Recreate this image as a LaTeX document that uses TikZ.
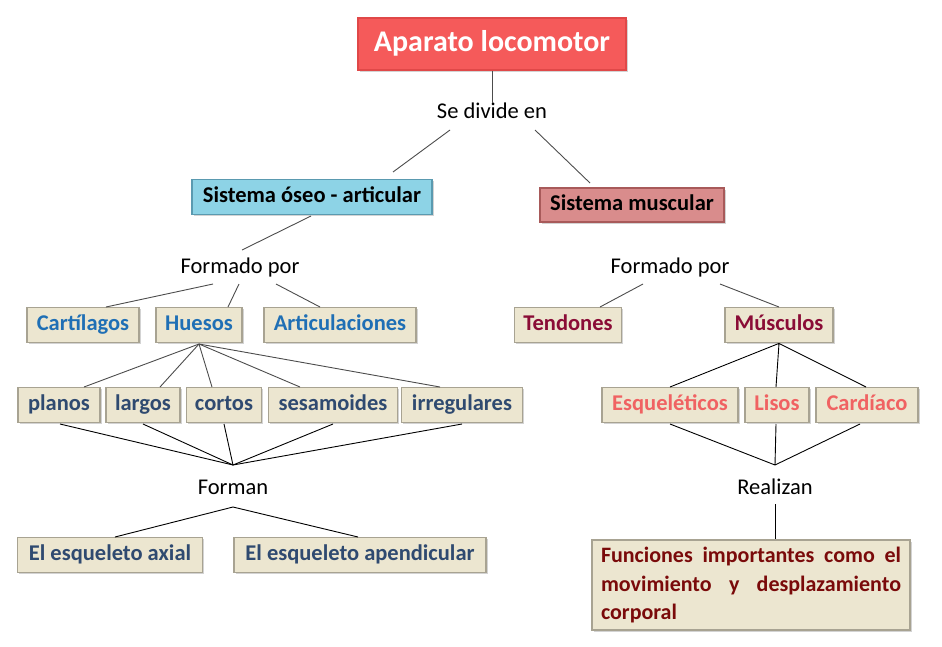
\documentclass[tikz,border=0pt]{standalone}
\usepackage{fontspec}
\setmainfont{Carlito}
\usetikzlibrary{shadows}
\definecolor{beige}{HTML}{ECE6D0}
\definecolor{bevel}{HTML}{A8A392}
\definecolor{cblue}{HTML}{1F6FB5}
\definecolor{cslate}{HTML}{2F4A70}
\definecolor{cmaroon}{HTML}{8A0C36}
\definecolor{csalmon}{HTML}{F06262}
\definecolor{cdark}{HTML}{7A0A0A}
\definecolor{osfill}{HTML}{8DD3E6}
\definecolor{osdraw}{HTML}{5A9AB0}
\definecolor{mufill}{HTML}{D98C8C}
\definecolor{mudraw}{HTML}{A85A5A}
\definecolor{apfill}{HTML}{F55A5A}
\definecolor{apdraw}{HTML}{E04848}
\begin{document}
\begin{tikzpicture}[x=1pt,y=-1pt,
  box/.style={draw=bevel,line width=1.8pt,fill=beige,inner sep=0pt,text height=15pt,text depth=5pt,font=\fontsize{22.5}{25}\selectfont\bfseries,drop shadow={shadow xshift=1.5pt,shadow yshift=-1.5pt,opacity=0.35}},
  lbl/.style={inner sep=0pt,font=\fontsize{22.5}{25}\selectfont},
  ln/.style={line width=0.9pt},
  gl/.style={line width=0.9pt,draw=black!70}]
\useasboundingbox (0,0) rectangle (942,646);
\node[box,fill=apfill,draw=apdraw,text=white,minimum width=268pt,minimum height=52pt,text height=20pt,text depth=6pt,font=\fontsize{30}{32}\selectfont\bfseries] (ap) at (492,44) {Aparato locomotor};
\node[lbl] (se) at (492,111) {Se divide en};
\node[box,fill=osfill,draw=osdraw,minimum width=240pt,minimum height=35pt] (os) at (312,197) {Sistema óseo - articular};
\node[box,fill=mufill,draw=mudraw,minimum width=184pt,minimum height=34pt] (mu) at (632,205) {Sistema muscular};
\node[lbl] (f1) at (240,267) {Formado por};
\node[lbl] (f2) at (670,267) {Formado por};
\node[box,text=cblue,minimum width=112pt,minimum height=35pt] (ca) at (83,325) {Cartílagos};
\node[box,text=cblue,minimum width=86pt,minimum height=35pt] (hu) at (199,325) {Huesos};
\node[box,text=cblue,minimum width=152pt,minimum height=35pt] (ar) at (340,325) {Articulaciones};
\node[box,text=cmaroon,minimum width=107pt,minimum height=35pt] (te) at (568,325) {Tendones};
\node[box,text=cmaroon,minimum width=108pt,minimum height=35pt] (ms) at (779,325) {Músculos};
\node[box,text=cslate,minimum width=82pt,minimum height=35pt] (pl) at (59,405) {planos};
\node[box,text=cslate,minimum width=74pt,minimum height=35pt] (la) at (143,405) {largos};
\node[box,text=cslate,minimum width=75pt,minimum height=35pt] (co) at (224,405) {cortos};
\node[box,text=cslate,minimum width=129pt,minimum height=35pt] (sm) at (333,405) {sesamoides};
\node[box,text=cslate,minimum width=121pt,minimum height=35pt] (ir) at (462,405) {irregulares};
\node[box,text=csalmon,minimum width=136pt,minimum height=35pt] (es) at (670,405) {Esqueléticos};
\node[box,text=csalmon,minimum width=64pt,minimum height=35pt] (li) at (777,405) {Lisos};
\node[box,text=csalmon,minimum width=102pt,minimum height=35pt] (cd) at (867,405) {Cardíaco};
\node[lbl] (fo) at (233,487) {Forman};
\node[lbl] (re) at (775,487) {Realizan};
\node[box,text=cslate,minimum width=185pt,minimum height=35pt] (ax) at (110,555) {El esqueleto axial};
\node[box,text=cslate,minimum width=252pt,minimum height=35pt] (apd) at (360,555) {El esqueleto apendicular};
\node[box,text=cdark,minimum width=318pt,minimum height=90pt,text height=,text depth=,font=\fontsize{22}{28}\selectfont\bfseries] (fu) at (751,585) {\parbox{300pt}{\hyphenpenalty=10000
\makebox[300pt][s]{Funciones importantes como el}\\
\makebox[300pt][s]{movimiento y desplazamiento}\\
corporal}};
% connectors
\draw[gl] (ap.south) -- (se.north);
\coordinate (b1) at (450,130); \coordinate (b2) at (393,172);
\draw[gl] (b1) -- (b2);
\coordinate (c1) at (535,130); \coordinate (c2) at (590,183);
\draw[gl] (c1) -- (c2);
\coordinate (c3) at (311,216); \coordinate (c4) at (242,250);
\draw[gl] (c3) -- (c4);
\coordinate (d0) at (213,284); \coordinate (d1) at (106,307);
\coordinate (d2) at (239,284); \coordinate (d3) at (228,307);
\coordinate (d4) at (276,284); \coordinate (d5) at (320,307);
\draw[gl] (d0)--(d1) (d2)--(d3) (d4)--(d5);
\coordinate (e0) at (643,284); \coordinate (e1) at (600,307);
\coordinate (e2) at (720,284); \coordinate (e3) at (779,307);
\draw[gl] (e0)--(e1) (e2)--(e3);
\coordinate (h) at (199,344);
\foreach \x in {84,160,212,300,440} \draw[gl] (h) -- (\x,387);
\coordinate (fc) at (233,465);
\foreach \x in {60,143,224,333,462} \draw[ln] (\x,424) -- (fc);
\coordinate (g0) at (233,507);
\draw[ln] (g0) -- (115,537) (g0) -- (358,537);
\draw[ln] (ms.south) -- (670,387) (ms.south) -- (776,387) (ms.south) -- (866,387);
\coordinate (rc) at (775,465);
\draw[ln] (670,424) -- (rc) (776,424) -- (rc) (860,424) -- (rc);
\coordinate (r0) at (775,504);
\draw[ln] (r0) -- (fu.north -| r0);
\end{tikzpicture}
\end{document}
